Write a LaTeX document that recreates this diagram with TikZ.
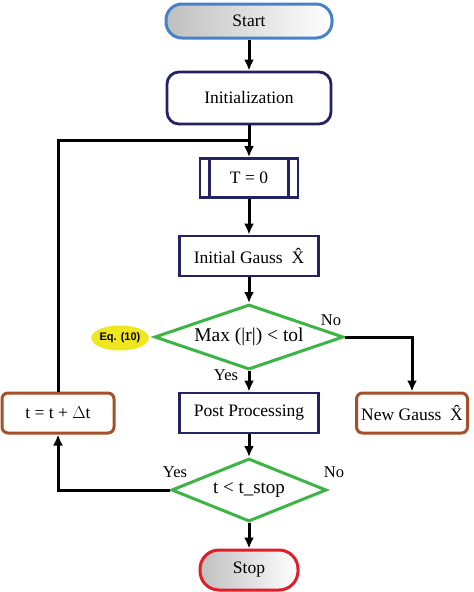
\documentclass[tikz,border=0pt]{standalone}
\usepackage{fontspec}
\setmainfont{Liberation Serif}
\newfontfamily\eqfont{Liberation Sans}
\usetikzlibrary{positioning,arrows.meta,shapes.geometric,calc}
\definecolor{startblue}{RGB}{70,130,200}
\definecolor{navybox}{RGB}{35,35,100}
\definecolor{decgreen}{RGB}{60,180,70}
\definecolor{loopbrown}{RGB}{165,80,40}
\definecolor{stopred}{RGB}{225,30,40}
\definecolor{eqyellow}{RGB}{240,230,30}
\tikzset{
  flowarrow/.style={-{Latex[length=11pt,width=10pt]}, line width=3pt},
  flowline/.style={line width=3pt},
  termnode/.style={draw, line width=3pt, left color=gray!50, right color=white, minimum height=34pt, align=center},
  procnode/.style={draw=navybox, line width=2.8pt, fill=white, minimum height=40pt, align=center},
  loopnode/.style={draw=loopbrown, line width=3pt, fill=white, rounded corners=6pt, minimum height=40pt, align=center},
  decnode/.style={draw=decgreen, diamond, line width=3pt, fill=white, inner sep=0pt, align=center},
  eqnode/.style={ellipse, fill=eqyellow, minimum width=55pt, minimum height=25pt, inner sep=0pt, font=\eqfont\bfseries\fontsize{11}{12}\selectfont},
  relabel/.style={font=\fontsize{16.5}{18}\selectfont, inner sep=1pt}
}

\begin{document}
\begin{tikzpicture}[x=1pt, y=-1pt, >=Latex, every node/.style={font=\fontsize{17.5}{19}\selectfont}]
  \useasboundingbox (0,0) rectangle (474,592);
  \node[termnode, draw=startblue, minimum width=166pt, rounded corners=16pt] (start) at (249,21) {Start};
  \node[procnode, rounded corners=12pt, minimum width=164pt, minimum height=52pt] (init) at (249,98) {Initialization};
  \node[procnode, minimum width=98pt, minimum height=39pt] (tzero) at (249,178) {T = 0};
  \draw[navybox, line width=2.6pt] ($(tzero.north west)+(11,0)$) -- ($(tzero.south west)+(11,0)$);
  \draw[navybox, line width=2.6pt] ($(tzero.north east)+(-11,0)$) -- ($(tzero.south east)+(-11,0)$);
  \node[procnode, minimum width=139pt] (gauss) at (249,256) {Initial Gauss \ \^{X}};
  \node[decnode, shape aspect=2.9, minimum width=189pt, minimum height=65pt, font=\fontsize{19.5}{21}\selectfont] (maxtol) at (249,337) {Max (|r|) < tol};
  \node[eqnode] (eq) at (120,338) {Eq. (10)};
  \node[procnode, minimum width=139pt] (post) at (249,413) {Post Processing};
  \node[loopnode, minimum width=111pt] (newgauss) at (412,413) {New Gauss \ \^{X}};
  \node[loopnode, minimum width=112pt] (tstep) at (58,413) {t = t + $\Delta$t};
  \node[decnode, shape aspect=2.46, minimum width=155pt, minimum height=63pt, font=\fontsize{19}{21}\selectfont] (tstop) at (249,490) {t < t\_stop};
  \node[termnode, draw=stopred, minimum width=98pt, minimum height=40pt, rounded corners=19pt] (stop) at (249,570) {Stop};
  \coordinate (join) at (249,140);

  \draw[flowarrow] (start) -- (init);
  \draw[flowarrow] (init) -- (tzero);
  \draw[flowarrow] (tzero) -- (gauss);
  \draw[flowarrow] (gauss) -- (maxtol);
  \draw[flowarrow] (maxtol) -- (post);
  \draw[flowarrow] (maxtol.east) -| (newgauss.north);
  \draw[flowarrow] (post) -- (tstop);
  \draw[flowarrow] (tstop) -- (stop);
  \draw[flowarrow] (tstop.west) -| (tstep.south);
  \draw[flowline] (tstep.north) |- (join);

  \node[relabel] at (226,375) {Yes};
  \node[relabel] at (331,320) {No};
  \node[relabel] at (175,472) {Yes};
  \node[relabel] at (334,472) {No};
\end{tikzpicture}
\end{document}
